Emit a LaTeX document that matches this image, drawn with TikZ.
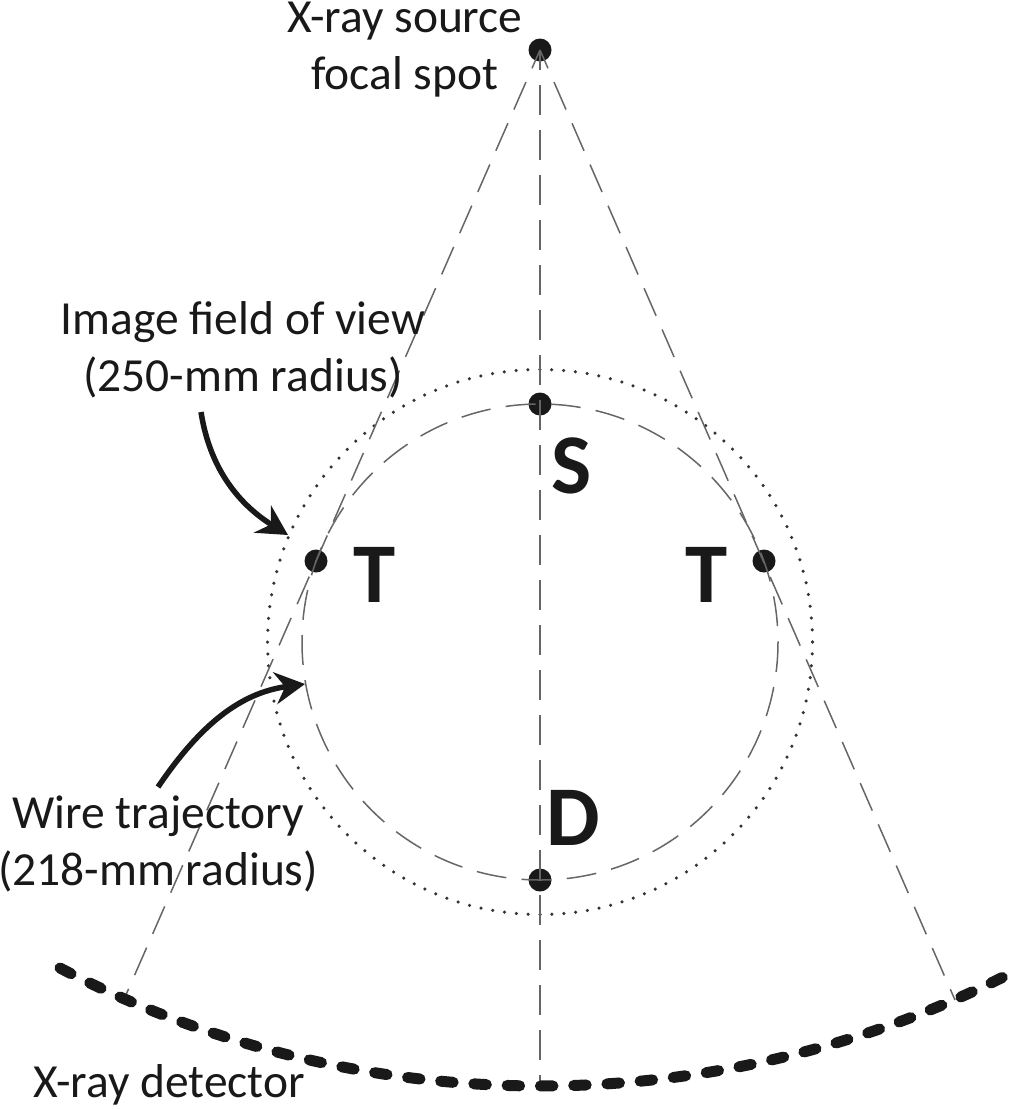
\documentclass[tikz,border=0pt]{standalone}
\usepackage{fontspec}
\setmainfont{Carlito}
\usetikzlibrary{arrows.meta}
\tikzset{
  lbl/.style={inner sep=0pt,align=center,text=black!90,font=\fontsize{47.5}{57}\selectfont},
  big/.style={inner sep=0pt,text=black!90,font=\fontsize{85}{85}\selectfont\bfseries},
  pt/.style={circle,fill=black!90,minimum size=23pt,inner sep=0pt},
  wire/.style={draw=black!60,line width=1.5pt,dash pattern=on 30pt off 15.3pt},
  ray/.style={draw=black!60,line width=1.5pt,dash pattern=on 30pt off 15pt,dash phase=10pt},
  fov/.style={draw=black!80,line width=3.5pt,line cap=round,dash pattern=on 0pt off 11.89pt},
  det/.style={draw=black!90,line width=11pt,line cap=round,dash pattern=on 12.5pt off 20.8pt},
  pointer/.style={draw=black!90,line width=5.5pt,-{Stealth[length=30pt,width=32pt,inset=10pt]}}
}
\begin{document}
\begin{tikzpicture}[x=1pt,y=-1pt]
\useasboundingbox (0,0) rectangle (1013,1109);
\coordinate (c) at (540,642);
\node[pt] (src) at (540,50) {};
\node[pt] (s) at (540,404) {};
\node[pt] (d) at (540,880) {};
\node[pt] (tl) at (316,561) {};
\node[pt] (tr) at (764,561) {};
\coordinate (dl) at (125,997);
\coordinate (dr) at (955,1000);
\coordinate (dm) at (540,1087);
\draw[wire] (c) circle[radius=238];
\draw[fov] (c) circle[radius=272.5];
\draw[ray] (src.center) -- (dl);
\draw[ray] (src.center) -- (dr);
\draw[ray] (src.center) -- (dm);
\coordinate (detstart) at (60,968);
\draw[det] (detstart) arc[start angle=117.6,end angle=62.7,radius=1037];
\node[lbl] (lsrc) at (405,50) {X-ray source\\focal spot};
\node[lbl] (lfov) at (243,350) {Image field of view\\(250-mm radius)};
\node[lbl] (lwire) at (158,844) {Wire trajectory\\(218-mm radius)};
\node[lbl] (ldet) at (169,1085) {X-ray detector};
\node[big] (ls) at (572,466) {S};
\node[big] (ld) at (573,818) {D};
\node[big] (ltl) at (375,575) {T};
\node[big] (ltr) at (707,575) {T};
\coordinate (a1s) at (201,412);
\coordinate (a1e) at (288,535);
\coordinate (a2s) at (158,787);
\coordinate (a2e) at (305,684);
\draw[pointer] (a1s) .. controls (210,470) and (240,505) .. (a1e);
\draw[pointer] (a2s) .. controls (200,725) and (240,693) .. (a2e);
\end{tikzpicture}
\end{document}
